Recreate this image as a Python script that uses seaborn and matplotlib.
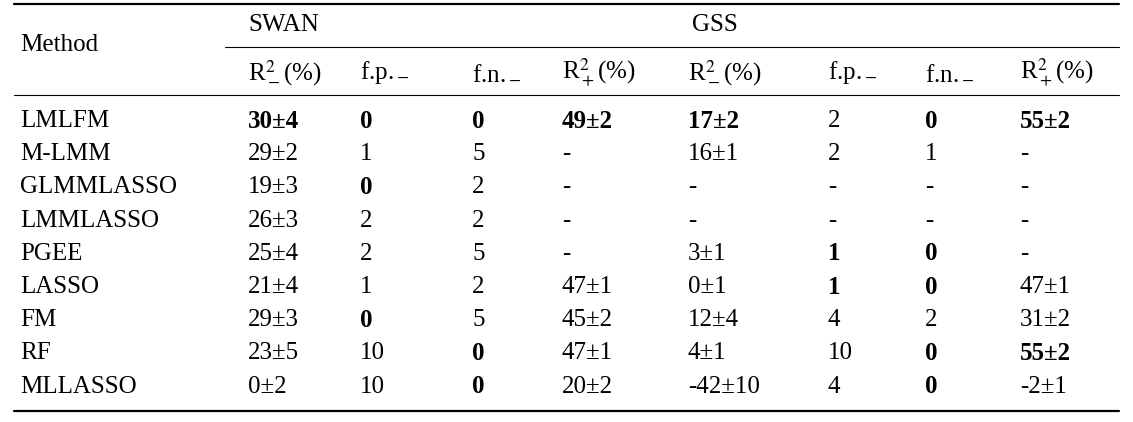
import matplotlib
matplotlib.use("Agg")
import matplotlib.pyplot as plt
import seaborn as sns

methods = ["LMLFM", "M-LMM", "GLMMLASSO", "LMMLASSO", "PGEE", "LASSO", "FM", "RF", "MLLASSO"]
swan_r2m = ["30±4", "29±2", "19±3", "26±3", "25±4", "21±4", "29±3", "23±5", "0±2"]
swan_fp = ["0", "1", "0", "2", "2", "1", "0", "10", "10"]
swan_fn = ["0", "5", "2", "2", "5", "2", "5", "0", "0"]
swan_r2p = ["49±2", "-", "-", "-", "-", "47±1", "45±2", "47±1", "20±2"]
gss_r2m = ["17±2", "16±1", "-", "-", "3±1", "0±1", "12±4", "4±1", "-42±10"]
gss_fp = ["2", "2", "-", "-", "1", "1", "4", "10", "4"]
gss_fn = ["0", "1", "-", "-", "0", "0", "2", "0", "0"]
gss_r2p = ["55±2", "-", "-", "-", "-", "47±1", "31±2", "55±2", "-2±1"]
# bold flags per row, one per data column
bold = [
    [1, 1, 1, 1, 1, 0, 1, 1],
    [0, 0, 0, 0, 0, 0, 0, 0],
    [0, 1, 0, 0, 0, 0, 0, 0],
    [0, 0, 0, 0, 0, 0, 0, 0],
    [0, 0, 0, 0, 0, 1, 1, 0],
    [0, 0, 0, 0, 0, 1, 1, 0],
    [0, 1, 0, 0, 0, 0, 0, 0],
    [0, 0, 1, 0, 0, 0, 1, 1],
    [0, 0, 1, 0, 0, 0, 1, 0],
]
sub_headers = [r"R$^2_-$(%)", r"f.p.$_-$", r"f.n.$_-$", r"R$^2_+$(%)",
               r"R$^2_-$(%)", r"f.p.$_-$", r"f.n.$_-$", r"R$^2_+$(%)"]

columns = [swan_r2m, swan_fp, swan_fn, swan_r2p, gss_r2m, gss_fp, gss_fn, gss_r2p]
col_x = [248, 360, 472, 562, 688, 828, 925, 1020]

sns.set_theme(style="white")
plt.rcParams["font.family"] = ["Liberation Serif", "DejaVu Serif"]
plt.rcParams["mathtext.fontset"] = "stix"
plt.rcParams["text.color"] = "black"

fig = plt.figure(figsize=(11.33, 4.22), dpi=100)
ax = fig.add_axes([0, 0, 1, 1])
ax.set_xlim(0, 1133)
ax.set_ylim(422, 0)
ax.axis("off")
fs = 18

ax.axhline(4, 0.012, 0.988, color="black", lw=1.6)
ax.axhline(47, 225 / 1133, 0.988, color="black", lw=0.8)
ax.axhline(95, 0.012, 0.988, color="black", lw=0.8)
ax.axhline(411, 0.012, 0.988, color="black", lw=1.6)

ax.text(20, 45, "Method", fontsize=fs, va="center")
ax.text(248, 25, "SWAN", fontsize=fs, va="center")
ax.text(692, 25, "GSS", fontsize=fs, va="center")
for x, h in zip(col_x, sub_headers):
    ax.text(x, 73, h, fontsize=fs, va="center")

for i, m in enumerate(methods):
    y = 121 + i * 33.2
    ax.text(20, y, m, fontsize=fs, va="center")
    for j, col in enumerate(columns):
        ax.text(col_x[j], y, col[i], fontsize=fs, va="center",
                fontweight="bold" if bold[i][j] else "normal")

fig.savefig("out.png", dpi=100)
